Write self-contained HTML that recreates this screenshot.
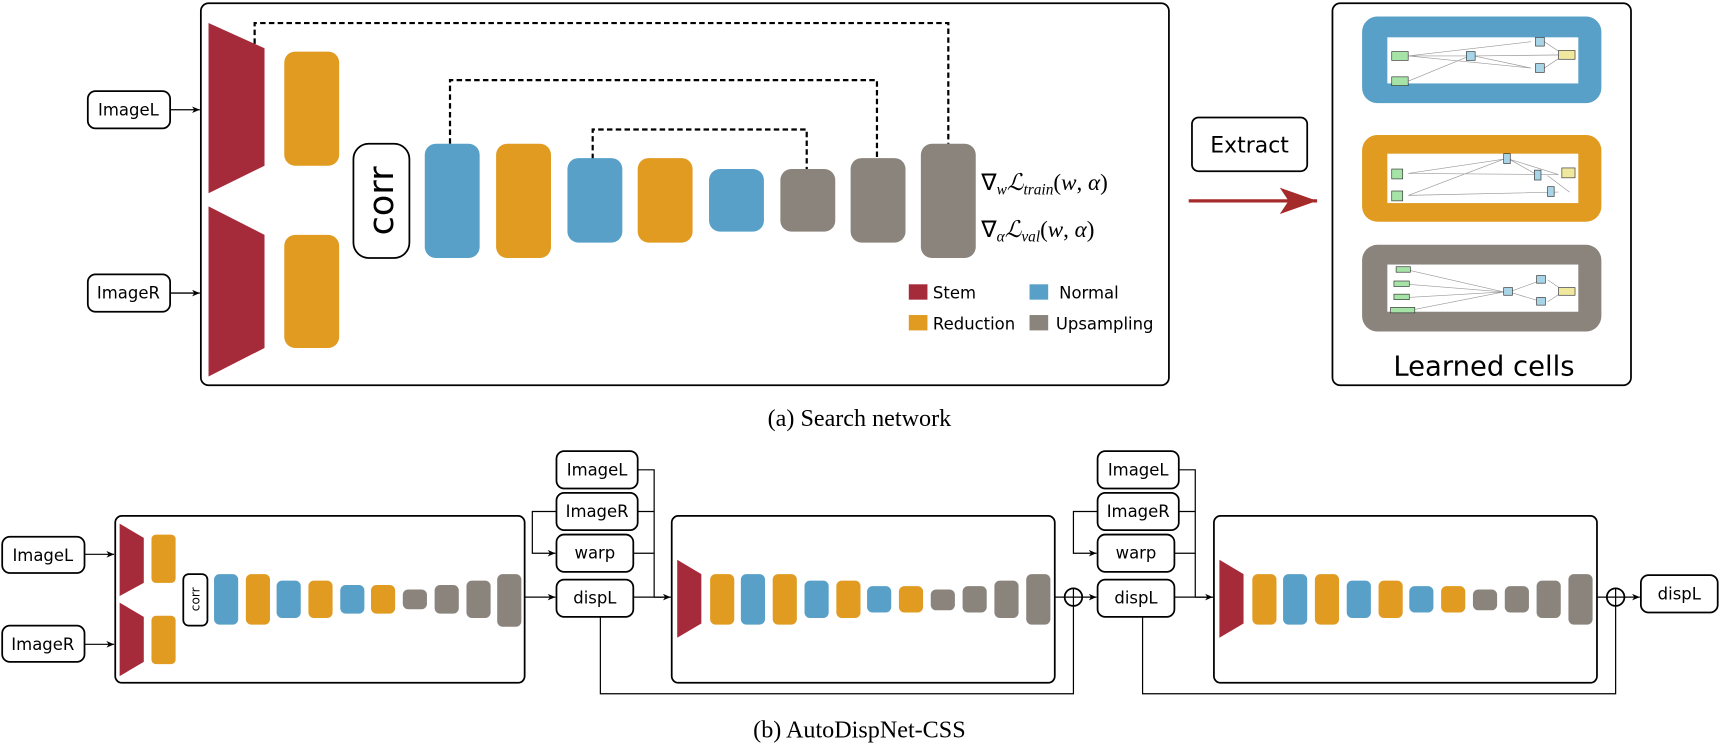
<!DOCTYPE html>
<html><head><meta charset="utf-8"><style>
html,body{margin:0;padding:0;background:#fff;}
svg{display:block;}
text{font-family:"DejaVu Sans","Liberation Sans",sans-serif;}
.s{font-family:"Liberation Serif",serif;}
</style></head><body>
<svg width="1721" height="753" viewBox="0 0 1568 686" preserveAspectRatio="none" xmlns="http://www.w3.org/2000/svg">
<defs>
<marker id="ar" markerWidth="8" markerHeight="8" refX="7" refY="3" orient="auto" markerUnits="userSpaceOnUse"><path d="M0,0 L7,3 L0,6 L2,3 Z" fill="#000"/></marker>
<marker id="rr" markerWidth="40" markerHeight="30" refX="34" refY="12" orient="auto" markerUnits="userSpaceOnUse"><path d="M0,0 L34,12 L0,24 L8,12 Z" fill="#a52a2a"/></marker>
</defs>
<g stroke="#000" fill="none" stroke-width="1.6">
<rect x="183" y="3" width="882" height="348" rx="7"/>
<rect x="1214" y="3" width="272" height="348" rx="7"/>
<rect x="80" y="83" width="75" height="34" rx="7"/>
<rect x="80" y="250" width="75" height="34" rx="7"/>
<rect x="322" y="131" width="51" height="104" rx="14"/>
<rect x="1086" y="107" width="105" height="49" rx="6"/>
</g>
<g stroke="#000" stroke-width="1.2">
<line x1="155" y1="100" x2="182" y2="100" marker-end="url(#ar)"/>
<line x1="155" y1="267" x2="182" y2="267" marker-end="url(#ar)"/>
</g>
<g stroke="#000" stroke-width="2" fill="none" stroke-dasharray="5,3">
<path d="M232,40 V21 H864 V131"/>
<path d="M410,131 V73 H799 V144"/>
<path d="M540,145 V118 H735 V155"/>
</g>
<g fill="#a52a3a">
<polygon points="190,21 241,44 241,151 190,176"/>
<polygon points="190,188 241,214 241,317 190,343"/>
</g>
<g>
<rect x="259" y="47" width="50" height="104" rx="10" fill="#e09b20"/>
<rect x="259" y="214" width="50" height="103" rx="10" fill="#e09b20"/>
<rect x="387" y="131" width="50" height="104" rx="10" fill="#58a0c8"/>
<rect x="452" y="131" width="50" height="104" rx="10" fill="#e09b20"/>
<rect x="517" y="144" width="50" height="77" rx="10" fill="#58a0c8"/>
<rect x="581" y="144" width="50" height="77" rx="10" fill="#e09b20"/>
<rect x="646" y="154" width="50" height="57" rx="10" fill="#58a0c8"/>
<rect x="711" y="154" width="50" height="57" rx="10" fill="#8a847c"/>
<rect x="775" y="144" width="50" height="77" rx="10" fill="#8a847c"/>
<rect x="839" y="131" width="50" height="104" rx="10" fill="#8a847c"/>
</g>
<text x="347.5" y="183" font-size="32" text-anchor="middle" dominant-baseline="central" transform="rotate(-90 347.5 183)">corr</text>
<text x="117" y="105" font-size="15" text-anchor="middle">ImageL</text>
<text x="117" y="272" font-size="15" text-anchor="middle">ImageR</text>
<text x="894" y="173" font-size="21" class="s">∇<tspan font-style="italic" font-size="14" dy="4">w</tspan><tspan font-style="italic" dy="-4">ℒ</tspan><tspan font-style="italic" font-size="14" dy="4">train</tspan><tspan dy="-4">(</tspan><tspan font-style="italic">w</tspan>, <tspan font-style="italic">α</tspan>)</text>
<text x="894" y="216" font-size="21" class="s">∇<tspan font-style="italic" font-size="14" dy="4">α</tspan><tspan font-style="italic" dy="-4">ℒ</tspan><tspan font-style="italic" font-size="14" dy="4">val</tspan><tspan dy="-4">(</tspan><tspan font-style="italic">w</tspan>, <tspan font-style="italic">α</tspan>)</text>
<rect x="828" y="259" width="17" height="14" fill="#a52a3a"/>
<text x="850" y="272" font-size="15">Stem</text>
<rect x="938" y="259" width="17" height="14" fill="#58a0c8"/>
<text x="965" y="272" font-size="15">Normal</text>
<rect x="828" y="287" width="17" height="14" fill="#e09b20"/>
<text x="850" y="300" font-size="15">Reduction</text>
<rect x="938" y="287" width="17" height="14" fill="#8a847c"/>
<text x="962" y="300" font-size="15">Upsampling</text>
<text x="1138.5" y="139" font-size="20" text-anchor="middle">Extract</text>
<line x1="1083" y1="183" x2="1200" y2="183" stroke="#a52a2a" stroke-width="3" marker-end="url(#rr)"/>
<!-- learned cells -->
<rect x="1241" y="15" width="218" height="79" rx="14" fill="#58a0c8"/>
<rect x="1264" y="34" width="174" height="42" fill="#fff"/>
<rect x="1241" y="123" width="218" height="79" rx="14" fill="#e09b20"/>
<rect x="1264" y="140" width="174" height="45" fill="#fff"/>
<rect x="1241" y="223" width="218" height="79" rx="14" fill="#8a847c"/>
<rect x="1264" y="241" width="174" height="43" fill="#fff"/>
<g stroke="#999" stroke-width="0.6" fill="none">
<path d="M1283,54 L1395,41 M1283,54 L1339,54 M1283,77 L1339,54 M1343,54 L1395,65 M1343,54 L1425,53 M1407,41 L1425,53 M1407,65 L1425,53 M1283,54 L1395,65" transform="translate(0,-3)"/>
<path d="M1283,173 L1370,160 M1283,193 L1370,160 M1283,173 L1420,174 M1375,160 L1420,174 M1375,160 L1400,174 M1410,175 L1430,190 M1283,193 L1420,190" transform="translate(0,-15)"/>
<path d="M1283,269 L1370,289 M1283,282 L1370,289 M1283,294 L1370,289 M1283,306 L1370,289 M1375,289 L1405,278 M1375,289 L1405,298 M1410,278 L1425,288 M1410,298 L1425,288" transform="translate(0,-23)"/>
</g>
<g stroke="#333" stroke-width="0.6">
<g transform="translate(0,-3)">
<rect x="1268" y="50" width="15" height="8" fill="#a6e3a6"/><rect x="1268" y="73" width="15" height="8" fill="#a6e3a6"/>
<rect x="1336" y="50" width="8" height="8" fill="#a7d4e6"/><rect x="1399" y="37" width="8" height="8" fill="#a7d4e6"/><rect x="1399" y="61" width="8" height="8" fill="#a7d4e6"/><rect x="1420" y="49" width="15" height="8" fill="#f1e8a0"/>
</g>
<g transform="translate(0,-15)">
<rect x="1268" y="169" width="10" height="9" fill="#a6e3a6"/><rect x="1268" y="189" width="10" height="9" fill="#a6e3a6"/>
<rect x="1370" y="155" width="6" height="9" fill="#a7d4e6"/><rect x="1398" y="170" width="6" height="9" fill="#a7d4e6"/><rect x="1410" y="185" width="6" height="9" fill="#a7d4e6"/><rect x="1423" y="168" width="12" height="9" fill="#f1e8a0"/>
</g>
<g transform="translate(0,-23)">
<rect x="1272" y="266" width="13" height="5" fill="#a6e3a6"/><rect x="1270" y="279" width="14" height="5" fill="#a6e3a6"/><rect x="1270" y="291" width="14" height="5" fill="#a6e3a6"/><rect x="1267" y="303" width="22" height="5" fill="#a6e3a6"/>
<rect x="1370" y="285" width="8" height="7" fill="#a7d4e6"/><rect x="1400" y="274" width="8" height="7" fill="#a7d4e6"/><rect x="1400" y="294" width="8" height="7" fill="#a7d4e6"/><rect x="1420" y="285" width="15" height="7" fill="#f1e8a0"/>
</g>
</g>
<text x="1352" y="342" font-size="25" text-anchor="middle">Learned cells</text>
<text x="783" y="388" font-size="22" text-anchor="middle" class="s">(a) Search network</text>
<!-- bottom -->
<g stroke="#000" fill="none" stroke-width="1.6">
<rect x="105" y="470" width="373" height="152" rx="6"/>
<rect x="612" y="470" width="349" height="152" rx="6"/>
<rect x="1106" y="470" width="349" height="152" rx="6"/>
<rect x="2" y="489" width="75" height="33" rx="7"/>
<rect x="2" y="570" width="75" height="33" rx="7"/>
<rect x="167" y="523" width="22" height="47" rx="5"/>
<rect x="507" y="411" width="74" height="34" rx="7"/><rect x="507" y="449" width="74" height="34" rx="7"/><rect x="507" y="487" width="70" height="34" rx="7"/><rect x="507" y="528" width="70" height="34" rx="7"/>
<rect x="1000" y="411" width="74" height="34" rx="7"/><rect x="1000" y="449" width="74" height="34" rx="7"/><rect x="1000" y="487" width="70" height="34" rx="7"/><rect x="1000" y="528" width="70" height="34" rx="7"/>
<rect x="1495" y="524" width="70" height="34" rx="7"/>
<circle cx="978" cy="544" r="8"/><circle cx="1472" cy="544" r="8"/>
</g>
<text x="178" y="546" font-size="11" text-anchor="middle" dominant-baseline="central" transform="rotate(-90 178 546)">corr</text>
<g font-size="15" text-anchor="middle">
<text x="39" y="511">ImageL</text><text x="39" y="592">ImageR</text>
<text x="544" y="433">ImageL</text><text x="544" y="471">ImageR</text><text x="542" y="509">warp</text><text x="542" y="550">dispL</text>
<text x="1037" y="433">ImageL</text><text x="1037" y="471">ImageR</text><text x="1035" y="509">warp</text><text x="1035" y="550">dispL</text>
<text x="1530" y="546">dispL</text>
</g>
<g stroke="#000" stroke-width="1.1" fill="none">
<line x1="77" y1="505" x2="104" y2="505" marker-end="url(#ar)"/>
<line x1="77" y1="587" x2="104" y2="587" marker-end="url(#ar)"/>
<line x1="478" y1="544" x2="506" y2="544" marker-end="url(#ar)"/>
<path d="M581,428 H596 V544 M581,466 H596 M577,504 H596 M577,544 H611" />
<line x1="596" y1="544" x2="611" y2="544" marker-end="url(#ar)"/>
<path d="M507,466 H485 V504 H506" marker-end="url(#ar)"/>
<path d="M547,562 V632 H978 V536"/>
<line x1="961" y1="544" x2="999" y2="544" marker-end="url(#ar)"/>
<path d="M1074,428 H1089 V544 M1074,466 H1089 M1070,504 H1089 M1070,544 H1105"/>
<line x1="1089" y1="544" x2="1105" y2="544" marker-end="url(#ar)"/>
<path d="M1000,466 H978 V504 H999" marker-end="url(#ar)"/>
<path d="M1041,562 V632 H1472 V536"/>
<line x1="1455" y1="544" x2="1494" y2="544" marker-end="url(#ar)"/>
</g>
<g fill="#a52a3a">
<polygon points="109,477 131,490 131,531 109,543"/>
<polygon points="109,549 131,562 131,603 109,616"/>
<polygon points="617,510 639,523 639,568 617,581"/>
<polygon points="1111,510 1133,523 1133,568 1111,581"/>
</g>
<g>
<rect x="138" y="487" width="22" height="44" rx="4" fill="#e09b20"/>
<rect x="138" y="561" width="22" height="44" rx="4" fill="#e09b20"/>
<rect x="195" y="523" width="22" height="46" rx="5" fill="#58a0c8"/>
<rect x="224" y="523" width="22" height="46" rx="5" fill="#e09b20"/>
<rect x="252" y="529" width="22" height="34" rx="5" fill="#58a0c8"/>
<rect x="281" y="529" width="22" height="34" rx="5" fill="#e09b20"/>
<rect x="310" y="533" width="22" height="26" rx="5" fill="#58a0c8"/>
<rect x="338" y="533" width="22" height="26" rx="5" fill="#e09b20"/>
<rect x="367" y="537" width="22" height="18" rx="5" fill="#8a847c"/>
<rect x="396" y="533" width="22" height="26" rx="5" fill="#8a847c"/>
<rect x="425" y="529" width="22" height="34" rx="5" fill="#8a847c"/>
<rect x="453" y="523" width="22" height="48" rx="5" fill="#8a847c"/>
</g>
<g id="row2">
<rect x="647" y="523" width="22" height="46" rx="5" fill="#e09b20"/>
<rect x="675" y="523" width="22" height="46" rx="5" fill="#58a0c8"/>
<rect x="704" y="523" width="22" height="46" rx="5" fill="#e09b20"/>
<rect x="733" y="529" width="22" height="34" rx="5" fill="#58a0c8"/>
<rect x="762" y="529" width="22" height="34" rx="5" fill="#e09b20"/>
<rect x="790" y="534" width="22" height="24" rx="5" fill="#58a0c8"/>
<rect x="819" y="534" width="22" height="24" rx="5" fill="#e09b20"/>
<rect x="848" y="537" width="22" height="19" rx="5" fill="#8a847c"/>
<rect x="877" y="534" width="22" height="24" rx="5" fill="#8a847c"/>
<rect x="906" y="529" width="22" height="34" rx="5" fill="#8a847c"/>
<rect x="935" y="523" width="22" height="46" rx="5" fill="#8a847c"/>
</g>
<use href="#row2" x="494"/>
<text x="783" y="672" font-size="22" text-anchor="middle" class="s">(b) AutoDispNet-CSS</text>
</svg>
</body></html>
